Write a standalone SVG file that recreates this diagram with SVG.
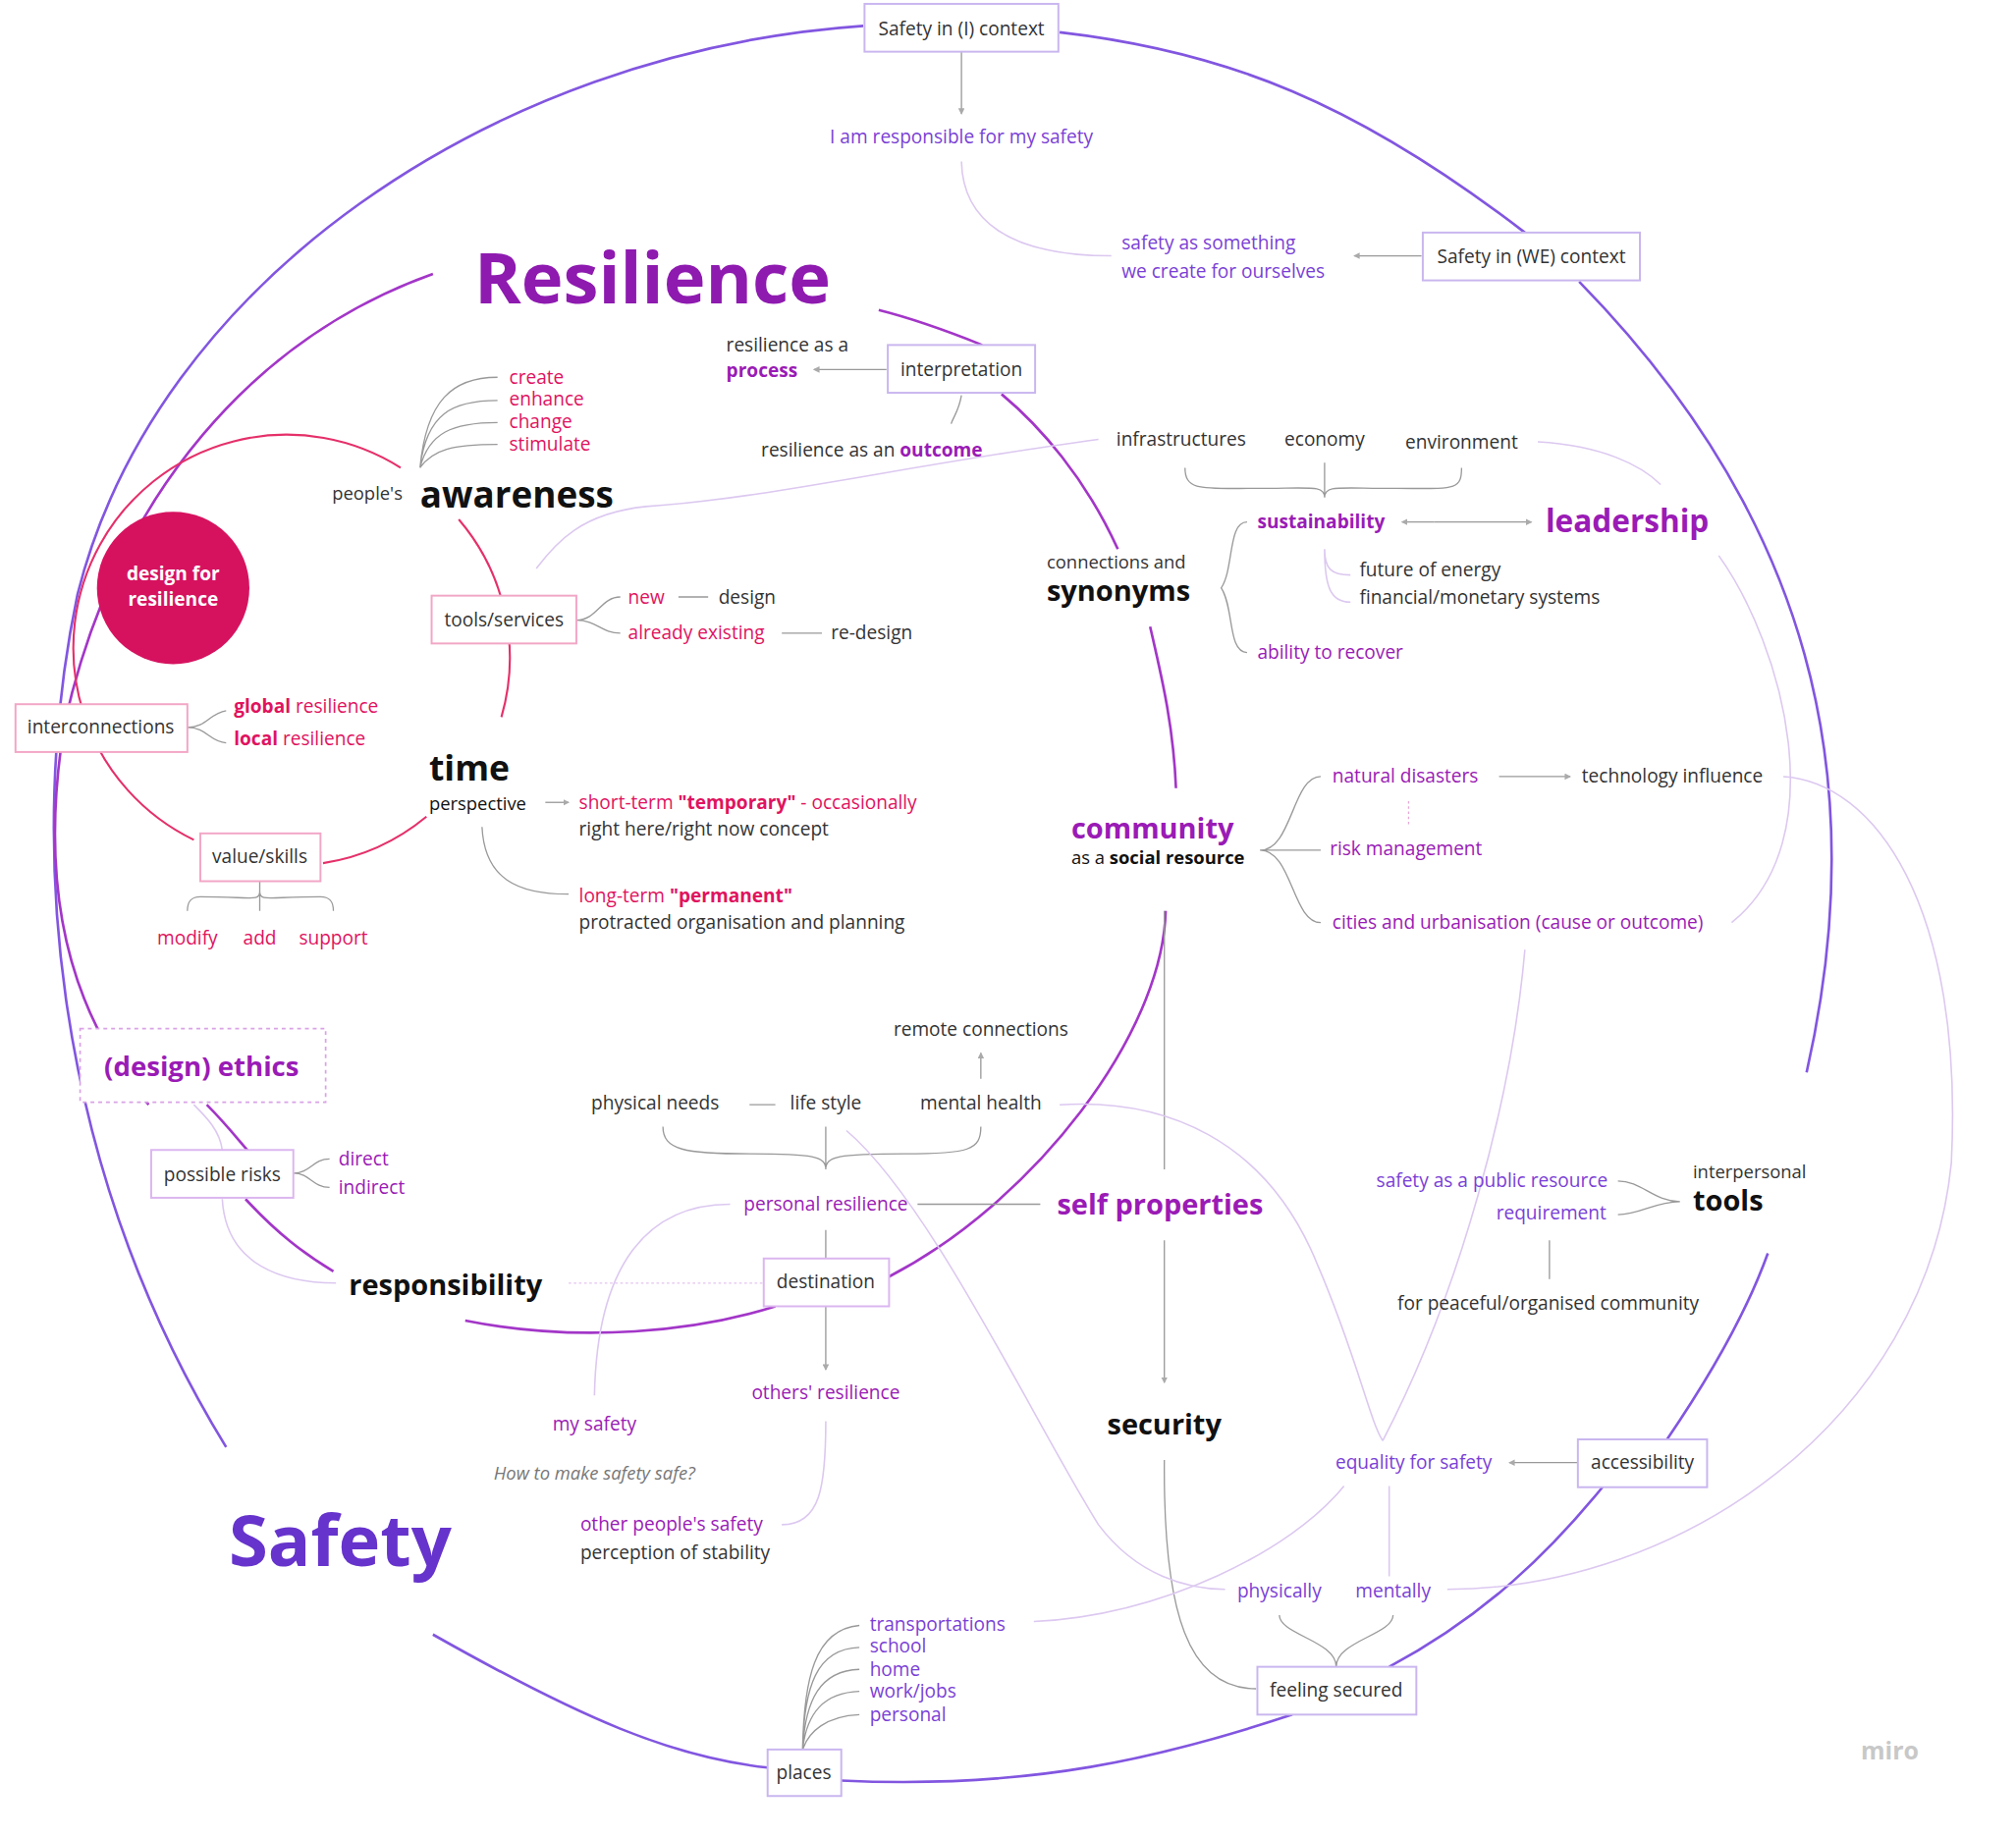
<svg xmlns="http://www.w3.org/2000/svg" width="2053" height="1872" viewBox="0 0 2053 1872">
<style>
text{font-family:"Open Sans","Noto Sans",sans-serif;font-size:14.5px;fill:#333}
.c{text-anchor:middle}
.e{text-anchor:end}
.pk{fill:#e0135f}
.pu{fill:#9a1bb5}
.vi{fill:#7a3fd6}
.b{font-weight:bold}
.box{fill:#fff;stroke:#c9b6ef;stroke-width:1.5}
.pbox{fill:#fff;stroke:#f2a6c6;stroke-width:1.5}
.ln{fill:none;stroke:#999;stroke-width:1}
.lt{fill:none;stroke:#dcc8f0;stroke-width:1.2}
.sa{fill:none;stroke:#8256e0;stroke-width:2}
.re{fill:none;stroke:#a336c8;stroke-width:2}
.rg{fill:none;stroke:#e5306a;stroke-width:1.6}
</style>
<defs><marker id="a" viewBox="0 0 6 6" refX="5" refY="3" markerWidth="5" markerHeight="5" orient="auto"><path d="M0,0L6,3L0,6z" fill="#aaa"/></marker></defs>
<rect width="2053" height="1872" fill="#fff"/>
<g transform="scale(1.316)">
<g id="connectors">
<path class="sa" d="M668,20 C380,40 120,220 60,460 C20,650 40,900 175,1120"/>
<path class="sa" d="M335,1265 C450,1330 520,1360 594,1368 M651,1378 C800,1385 900,1360 1000,1327 M1075,1290 C1150,1250 1200,1200 1240,1151 M1290,1114 C1320,1070 1350,1020 1368,970 M1398,830 C1450,600 1400,400 1222,218 M1180,180 C1050,80 950,40 820,25"/>
<path class="re" d="M335,212 C200,260 90,380 50,560 C30,680 50,780 115,855 M160,855 C180,875 190,890 205,905 M190,928 C215,955 235,970 258,984 M360,1022 C450,1040 540,1030 600,1011 M688,988 C800,930 900,800 902,705 M910,610 C908,560 898,520 890,485 M865,425 C840,370 805,330 775,305 M760,267 C730,255 700,245 680,240"/>
<path class="rg" d="M310,362 A165,165 0 1 0 150,650 M250,668 A165,165 0 0 0 330,632 M355,402 A165,165 0 0 1 388,555"/>
<path class="ln" d="M744,40V88" marker-end="url(#a)"/>
<path class="lt" d="M744,125 C745,170 780,198 860,198"/>
<path class="ln" d="M1100,198H1048" marker-end="url(#a)"/>
<path class="ln" d="M686,286H630" marker-end="url(#a)"/>
<path class="ln" d="M744,306 C742,318 738,322 736,328"/>
<path class="ln" d="M325,362 C330,310 350,292 385,292 M325,362 C330,320 350,310 385,310 M325,362 C332,335 350,327 385,327 M325,362 C335,348 350,344 385,344"/>
<path class="lt" d="M850,340 C700,360 600,385 500,392 C450,397 430,420 415,440"/>
<path class="ln" d="M446,480 C462,480 465,462 480,462 M446,480 C462,480 465,490 480,490"/>
<path class="ln" d="M525,462H548 M605,490H636"/>
<path class="ln" d="M145,563 C160,563 162,552 175,550 M145,563 C160,563 162,574 175,575"/>
<path class="ln" d="M422,621H440" marker-end="url(#a)"/>
<path class="ln" d="M373,640 C375,680 400,692 440,692"/>
<path class="ln" d="M201,682V705 M201,690 C201,698 195,694 155,694 C146,694 145,700 145,705 M201,690 C201,698 207,694 248,694 C257,694 258,700 258,705"/>
<path class="ln" d="M227,908 C240,908 242,897 255,897 M227,908 C240,908 242,919 255,919"/>
<path class="lt" d="M172,928 C175,980 220,993 260,993 M150,855 C160,865 170,875 172,890"/>
<path d="M440,993H590" stroke="#e4c3ef" stroke-dasharray="2,2" fill="none"/>
<path class="ln" d="M639,974V952 M710,932H805 M639,1011V1060" marker-end="url(#a)"/>
<path class="ln" d="M513,872 C513,890 530,893 580,893 C630,893 639,895 639,905 C639,895 648,893 700,893 C750,893 759,890 759,872 M639,872V905"/>
<path class="ln" d="M600,855H580 M759,835V815" marker-end="url(#a)"/>
<path class="lt" d="M460,1080 C462,980 500,932 565,932"/>
<path class="lt" d="M605,1180 C635,1180 639,1150 639,1100"/>
<path class="ln" d="M621,1355 C622,1300 630,1261 665,1258 M621,1355 C622,1305 632,1276 665,1275 M621,1355 C623,1315 635,1293 665,1292 M621,1355 C624,1325 638,1310 665,1309 M621,1355 C625,1340 640,1328 665,1327"/>
<path class="ln" d="M917,362 C917,380 930,378 970,378 C1015,378 1025,375 1025,385 C1025,375 1035,378 1080,378 C1125,378 1131,380 1131,362 M1025,358V385"/>
<path class="ln" d="M1110,404H1185" marker-end="url(#a)"/>
<path class="ln" d="M1110,404H1085" marker-end="url(#a)"/>
<path class="lt" d="M1025,425 C1025,440 1030,445 1045,445 M1025,425 C1025,455 1030,466 1045,466"/>
<path class="ln" d="M965,404 C950,404 955,440 945,455 C955,470 950,505 965,505"/>
<path class="ln" d="M975,658 C1000,658 1000,601 1022,601 M975,658H1022 M975,658 C1000,658 1000,714 1022,714"/>
<path class="ln" d="M1160,601H1215" marker-end="url(#a)"/>
<path d="M1090,620V638" stroke="#e6a8d6" stroke-dasharray="2,2" fill="none"/>
<path class="ln" d="M901,905V705 M901,960V1070" marker-end="url(#a)"/>
<path class="ln" d="M901,1130 C900,1250 920,1307 972,1307"/>
<path class="ln" d="M990,1250 C990,1265 1034,1270 1034,1290 C1034,1270 1078,1265 1078,1250"/>
<path class="ln" d="M1221,1132H1168" marker-end="url(#a)"/>
<path class="ln" d="M1300,930 C1280,930 1270,914 1252,914 M1300,930 C1280,930 1270,940 1252,940"/>
<path class="ln" d="M1199,960V990"/>
<path class="lt" d="M1190,342 C1240,345 1270,360 1285,375 M1330,430 C1380,500 1420,650 1340,714"/>
<path class="lt" d="M1380,601 C1450,605 1520,700 1510,900 C1490,1100 1300,1230 1120,1230"/>
<path class="lt" d="M820,855 C900,850 980,880 1020,980 C1050,1050 1060,1100 1070,1115 M1180,735 C1170,850 1130,1000 1070,1115"/>
<path class="lt" d="M655,875 C720,930 800,1100 850,1180 C880,1220 920,1230 948,1230"/>
<path class="lt" d="M800,1255 C900,1250 1000,1200 1040,1150 M1075,1150V1220"/>
</g>
<g id="n-safety-i"><rect class="box" x="669" y="3" width="150" height="37"/><text class="c" x="744" y="27">Safety in (I) context</text></g>
<g id="n-responsible"><text class="c vi" x="744" y="111">I am responsible for my safety</text></g>
<g id="n-create"><text class="vi" x="868" y="193">safety as something</text><text class="vi" x="868" y="215">we create for ourselves</text></g>
<g id="n-safety-we"><rect class="box" x="1101" y="180" width="168" height="37"/><text class="c" x="1185" y="204">Safety in (WE) context</text></g>
<g id="n-resilience"><text x="367" y="235" class="b" style="font-size:55px;fill:#8e1ab0">Resilience</text></g>
<g id="n-process"><text x="562" y="272">resilience as a</text><text x="562" y="292" class="b pu">process</text></g>
<g id="n-interpretation"><rect class="box" x="687" y="267" width="114" height="37"/><text class="c" x="744" y="291">interpretation</text></g>
<g id="n-outcome"><text x="589" y="353">resilience as an <tspan class="b pu">outcome</tspan></text></g>
<g id="n-verbs"><text class="pk" x="394" y="297">create</text><text class="pk" x="394" y="314">enhance</text><text class="pk" x="394" y="331">change</text><text class="pk" x="394" y="349">stimulate</text></g>
<g id="n-awareness"><text x="257" y="387" style="font-size:14px">people's</text><text x="325" y="393" class="b" style="font-size:28px;fill:#111">awareness</text></g>
<g id="n-design"><circle cx="134" cy="455" r="59" fill="#d6125f"/><text class="c b" x="134" y="449" style="fill:#fff">design for</text><text class="c b" x="134" y="469" style="fill:#fff">resilience</text></g>
<g id="n-tools-services"><rect class="pbox" x="334" y="461" width="112" height="37"/><text class="c" x="390" y="485">tools/services</text></g>
<g id="n-new"><text class="pk" x="486" y="467">new</text><text x="556" y="467">design</text></g>
<g id="n-existing"><text class="pk" x="486" y="495">already existing</text><text x="643" y="495">re-design</text></g>
<g id="n-interconnections"><rect class="pbox" x="12" y="545" width="133" height="37"/><text class="c" x="78" y="568">interconnections</text></g>
<g id="n-global"><text class="pk" x="181" y="552"><tspan class="b">global</tspan> resilience</text><text class="pk" x="181" y="577"><tspan class="b">local</tspan> resilience</text></g>
<g id="n-time"><text x="332" y="604" class="b" style="font-size:27px;fill:#111">time</text><text x="332" y="627" style="font-size:14px;fill:#111">perspective</text></g>
<g id="n-short"><text class="pk" x="448" y="626">short-term <tspan class="b">"temporary"</tspan> - occasionally</text><text x="448" y="647">right here/right now concept</text></g>
<g id="n-long"><text class="pk" x="448" y="698">long-term <tspan class="b">"permanent"</tspan></text><text x="448" y="719">protracted organisation and planning</text></g>
<g id="n-value"><rect class="pbox" x="155" y="645" width="93" height="37"/><text class="c" x="201" y="668">value/skills</text></g>
<g id="n-modify"><text class="c pk" x="145" y="731">modify</text><text class="c pk" x="201" y="731">add</text><text class="c pk" x="258" y="731">support</text></g>
<g id="n-ethics"><rect x="62" y="796" width="190" height="57" fill="#fff" stroke="#d9a3e6" stroke-width="1.3" stroke-dasharray="3,3"/><text class="c b pu" x="156" y="833" style="font-size:21px">(design) ethics</text></g>
<g id="n-risks"><rect class="box" x="117" y="890" width="110" height="37" style="stroke:#dbb6ef"/><text class="c" x="172" y="914">possible risks</text></g>
<g id="n-direct"><text class="pu" x="262" y="902">direct</text><text class="pu" x="262" y="924">indirect</text></g>
<g id="n-responsibility"><text x="270" y="1002" class="b" style="font-size:22px;fill:#111">responsibility</text></g>
<g id="n-destination"><rect class="box" x="591" y="974" width="97" height="37" style="stroke:#dbb6ef"/><text class="c" x="639" y="997">destination</text></g>
<g id="n-personal-res"><text class="c pu" x="639" y="937">personal resilience</text></g>
<g id="n-self"><text x="818" y="940" class="b pu" style="font-size:22px">self properties</text></g>
<g id="n-needs"><text class="c" x="507" y="859">physical needs</text><text class="c" x="639" y="859">life style</text><text class="c" x="759" y="859">mental health</text><text class="c" x="759" y="802">remote connections</text></g>
<g id="n-others"><text class="c pu" x="639" y="1083">others' resilience</text></g>
<g id="n-mysafety"><text class="c pu" x="460" y="1107">my safety</text></g>
<g id="n-how"><text class="c" x="460" y="1145" style="font-style:italic;fill:#777;font-size:14px">How to make safety safe?</text></g>
<g id="n-safety"><text x="177" y="1212" class="b" style="font-size:55px;fill:#6633cc">Safety</text></g>
<g id="n-otherpeople"><text class="pu" x="449" y="1185">other people's safety</text><text x="449" y="1207">perception of stability</text></g>
<g id="n-places"><rect class="box" x="594" y="1354" width="57" height="36"/><text class="c" x="622" y="1377">places</text>
<text class="vi" x="673" y="1262">transportations</text><text class="vi" x="673" y="1279">school</text><text class="vi" x="673" y="1297">home</text><text class="vi" x="673" y="1314">work/jobs</text><text class="vi" x="673" y="1332">personal</text></g>
<g id="n-infra"><text class="c" x="914" y="345">infrastructures</text><text class="c" x="1025" y="345">economy</text><text class="c" x="1131" y="347">environment</text></g>
<g id="n-sustain"><text class="b pu" x="973" y="409">sustainability</text><text class="b pu" x="1196" y="412" style="font-size:24px">leadership</text></g>
<g id="n-energy"><text x="1052" y="446">future of energy</text><text x="1052" y="467">financial/monetary systems</text></g>
<g id="n-synonyms"><text x="810" y="440" style="font-size:14px">connections and</text><text x="810" y="465" class="b" style="font-size:22px;fill:#111">synonyms</text></g>
<g id="n-recover"><text class="pu" x="973" y="510">ability to recover</text></g>
<g id="n-community"><text x="829" y="649" class="b pu" style="font-size:22px">community</text><text x="829" y="669" style="font-size:14px;fill:#111">as a <tspan class="b">social resource</tspan></text></g>
<g id="n-disasters"><text class="pu" x="1031" y="606">natural disasters</text><text x="1224" y="606">technology influence</text><text class="pu" x="1029" y="662">risk management</text><text class="pu" x="1031" y="719">cities and urbanisation (cause or outcome)</text></g>
<g id="n-security"><text class="c b" x="901" y="1110" style="font-size:22px;fill:#111">security</text></g>
<g id="n-feeling"><rect class="box" x="973" y="1290" width="123" height="37"/><text class="c" x="1034" y="1313">feeling secured</text></g>
<g id="n-phys"><text class="c vi" x="990" y="1236">physically</text><text class="c vi" x="1078" y="1236">mentally</text></g>
<g id="n-equality"><text class="c vi" x="1094" y="1137">equality for safety</text></g>
<g id="n-access"><rect class="box" x="1221" y="1114" width="100" height="37"/><text class="c" x="1271" y="1137">accessibility</text></g>
<g id="n-public"><text class="e vi" x="1244" y="919">safety as a public resource</text><text class="e vi" x="1243" y="944">requirement</text></g>
<g id="n-tools"><text x="1310" y="912" style="font-size:14px">interpersonal</text><text x="1310" y="937" class="b" style="font-size:22px;fill:#111">tools</text></g>
<g id="n-peaceful"><text class="c" x="1198" y="1014">for peaceful/organised community</text></g>
<text x="1440" y="1362" style="font-size:19px;fill:#c8c8c8;font-weight:bold">miro</text>
</g>
</svg>
